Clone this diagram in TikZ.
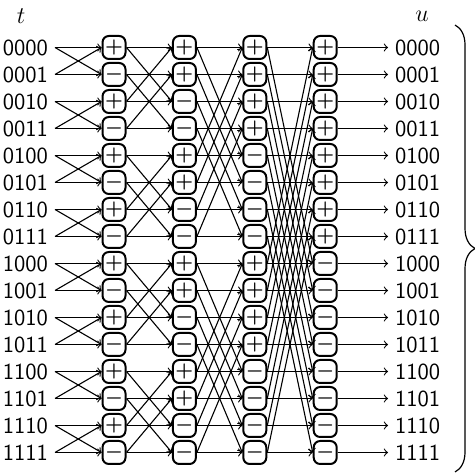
\documentclass[tikz,border=0pt]{standalone}
\usepackage{amsmath}
\usepackage{tikz}
\usetikzlibrary{arrows,decorations.pathreplacing}
\tikzstyle{sumnode}=[draw,rounded corners=3.2pt,line width=1pt,minimum size=11.5pt,inner sep=0pt,font=\normalsize\boldmath]
\tikzstyle{bitlabel}=[font=\sffamily\fontsize{11.5}{13}\selectfont]
\tikzstyle{wire}=[line width=0.55pt,->]

\begin{document}
\begin{tikzpicture}[x=0.5pt,y=0.5pt]
\useasboundingbox (0,0) rectangle (474,474);
\node[font=\large] (tlab) at (21,458) {$t$};
\node[font=\large] (ulab) at (422,458) {$u$};
% input bit strings
\foreach \b [count=\i from 0] in {0000,0001,0010,0011,0100,0101,0110,0111,1000,1001,1010,1011,1100,1101,1110,1111} {
  \pgfmathsetmacro{\y}{426.5-27*\i}
  \node[bitlabel,anchor=east] (t\i) at (55,\y) {\b};
}
% adders and subtractors, four stages
\foreach \k in {1,...,4} {
  \foreach \i in {0,...,15} {
    \pgfmathtruncatemacro{\bit}{mod(floor(\i/2^(\k-1)),2)}
    \pgfmathsetmacro{\x}{114+70.4*(\k-1)}
    \pgfmathsetmacro{\y}{426.5-27*\i}
    \ifnum\bit=0 \def\sgn{$+$}\else\def\sgn{$-$}\fi
    \node[sumnode] (s\k-\i) at (\x,\y) {\sgn};
  }
}
% butterflies
\foreach \k in {1,...,4} {
  \foreach \i in {0,...,15} {
    \pgfmathtruncatemacro{\h}{2^(\k-1)}
    \pgfmathtruncatemacro{\p}{\i+\h*(1-2*mod(floor(\i/\h),2))}
    \pgfmathtruncatemacro{\km}{\k-1}
    \ifnum\k=1 \def\src{t\i.east}\else\def\src{s\km-\i.east}\fi
    \draw[wire] (\src) -- (s\k-\i.west);
    \draw[wire] (\src) -- (s\k-\p.west);
  }
}
% outputs
\foreach \b [count=\i from 0] in {0000,0001,0010,0011,0100,0101,0110,0111,1000,1001,1010,1011,1100,1101,1110,1111} {
  \pgfmathsetmacro{\y}{426.5-27*\i}
  \node[bitlabel,anchor=west] (u\i) at (388,\y) {\b};
  \draw[wire] (s4-\i.east) -- (u\i.west);
}
\draw[semithick,decorate,decoration={brace,amplitude=10pt}] (455,449) -- (455,2);
\end{tikzpicture}
\end{document}
